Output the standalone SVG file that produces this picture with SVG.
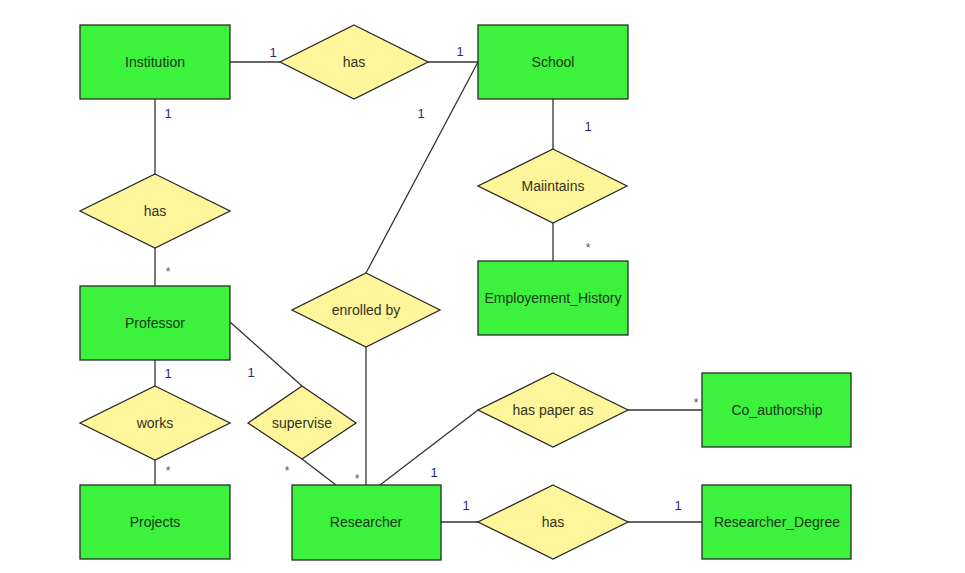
<svg xmlns="http://www.w3.org/2000/svg" width="965" height="573" viewBox="0 0 965 573">
<style>
.ent{fill:#3df23d;stroke:#2a2a2a;stroke-width:1.3}
.rel{fill:#fff59a;stroke:#2a2a2a;stroke-width:1.3}
.t{font-family:"Liberation Sans",Arial,sans-serif;font-size:14px;text-anchor:middle;dominant-baseline:central}
.te{fill:#143a14}
.tr{fill:#333322}
.c{stroke:#333;stroke-width:1.3;fill:none}
.m{font-family:"Liberation Sans",Arial,sans-serif;font-size:13px;fill:#2a2a6e;text-anchor:middle}
.s{font-family:"Liberation Sans",Arial,sans-serif;font-size:12px;fill:#555;text-anchor:middle}
</style>
<rect width="965" height="573" fill="#ffffff"/>
<g id="connectors">
<line class="c" x1="230" y1="62" x2="280" y2="62"/>
<line class="c" x1="428" y1="62" x2="478" y2="62"/>
<line class="c" x1="478" y1="62" x2="366" y2="273"/>
<line class="c" x1="155" y1="99" x2="155" y2="174"/>
<line class="c" x1="155" y1="248" x2="155" y2="286"/>
<line class="c" x1="155" y1="360" x2="155" y2="386"/>
<line class="c" x1="155" y1="460" x2="155" y2="485"/>
<line class="c" x1="230" y1="322" x2="302" y2="386"/>
<line class="c" x1="302" y1="459" x2="336" y2="485"/>
<line class="c" x1="366" y1="347" x2="366" y2="485"/>
<line class="c" x1="380" y1="485" x2="478" y2="410"/>
<line class="c" x1="628" y1="410" x2="702" y2="410"/>
<line class="c" x1="441" y1="522" x2="478" y2="522"/>
<line class="c" x1="628" y1="522" x2="702" y2="522"/>
<line class="c" x1="553" y1="99" x2="553" y2="149"/>
<line class="c" x1="553" y1="223" x2="553" y2="261"/>
<text class="m" x="273" y="57">1</text>
<text class="m" x="460" y="56">1</text>
<text class="m" x="421" y="118">1</text>
<text class="m" x="168" y="118">1</text>
<text class="s" x="168" y="276">*</text>
<text class="m" x="168" y="378">1</text>
<text class="s" x="168" y="475">*</text>
<text class="m" x="251" y="377">1</text>
<text class="s" x="287" y="475">*</text>
<text class="s" x="357" y="483">*</text>
<text class="m" x="434" y="477">1</text>
<text class="s" x="696" y="407">*</text>
<text class="m" x="466" y="510">1</text>
<text class="m" x="678" y="510">1</text>
<text class="m" x="588" y="131">1</text>
<text class="s" x="588" y="252">*</text>
</g>
<g id="Institution"><rect class="ent" x="80" y="25" width="150" height="74"/><text class="t te" x="155" y="62">Institution</text></g>
<g id="School"><rect class="ent" x="478" y="25" width="150" height="74"/><text class="t te" x="553" y="62">School</text></g>
<g id="Professor"><rect class="ent" x="80" y="286" width="150" height="74"/><text class="t te" x="155" y="323">Professor</text></g>
<g id="Projects"><rect class="ent" x="80" y="485" width="150" height="74"/><text class="t te" x="155" y="522">Projects</text></g>
<g id="Researcher"><rect class="ent" x="292" y="485" width="149" height="75"/><text class="t te" x="366" y="522">Researcher</text></g>
<g id="Employement_History"><rect class="ent" x="478" y="261" width="150" height="74"/><text class="t te" x="553" y="298">Employement_History</text></g>
<g id="Co_authorship"><rect class="ent" x="702" y="373" width="149" height="74"/><text class="t te" x="777" y="410">Co_authorship</text></g>
<g id="Researcher_Degree"><rect class="ent" x="702" y="485" width="149" height="74"/><text class="t te" x="777" y="522">Researcher_Degree</text></g>
<g id="has_top"><polygon class="rel" points="354,25 428,62 354,99 280,62"/><text class="t tr" x="354" y="62">has</text></g>
<g id="has_left"><polygon class="rel" points="155,174 230,211 155,248 80,211"/><text class="t tr" x="155" y="211">has</text></g>
<g id="works"><polygon class="rel" points="155,386 230,423 155,460 80,423"/><text class="t tr" x="155" y="423">works</text></g>
<g id="supervise"><polygon class="rel" points="302,386 356,423 302,459 248,423"/><text class="t tr" x="302" y="423">supervise</text></g>
<g id="enrolled_by"><polygon class="rel" points="366,273 440,310 366,347 292,310"/><text class="t tr" x="366" y="310">enrolled by</text></g>
<g id="Maiintains"><polygon class="rel" points="553,149 627,186 553,223 478,186"/><text class="t tr" x="553" y="186">Maiintains</text></g>
<g id="has_paper_as"><polygon class="rel" points="553,373 628,410 553,447 478,410"/><text class="t tr" x="553" y="410">has paper as</text></g>
<g id="has_bottom"><polygon class="rel" points="553,485 628,522 553,559 478,522"/><text class="t tr" x="553" y="522">has</text></g>
</svg>
